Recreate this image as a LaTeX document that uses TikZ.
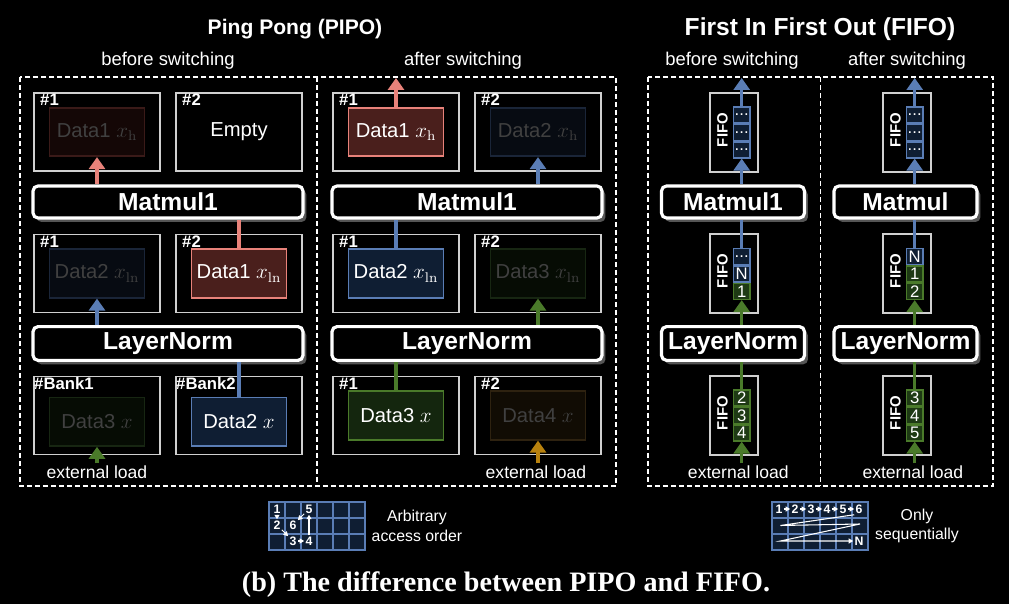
\documentclass[tikz,border=0pt]{standalone}
\usepackage[no-math]{fontspec}
\setmainfont{Liberation Sans}
\newfontfamily\captionfont{Liberation Serif}
\usepackage{tikz}
\usetikzlibrary{arrows.meta, positioning, shadows}
\usepackage{xcolor}
\definecolor{FigRed}{HTML}{E8827A}
\definecolor{FigRedFill}{HTML}{4A1F1C}
\definecolor{FigRedDim}{HTML}{3A1A18}
\definecolor{FigRedDimFill}{HTML}{140706}
\definecolor{FigBlue}{HTML}{5A7DB5}
\definecolor{FigBlueFill}{HTML}{0F1E33}
\definecolor{FigBlueDim}{HTML}{1A2538}
\definecolor{FigBlueDimFill}{HTML}{070B12}
\definecolor{FigGreen}{HTML}{4A7A2A}
\definecolor{FigGreenFill}{HTML}{14260E}
\definecolor{FigGreenDim}{HTML}{172612}
\definecolor{FigGreenDimFill}{HTML}{060C04}
\definecolor{FigCellGreen}{HTML}{1E3A14}
\definecolor{FigOrange}{HTML}{B8820E}
\definecolor{FigOrangeDim}{HTML}{2E2210}
\definecolor{FigOrangeDimFill}{HTML}{110C04}
\definecolor{FigFrame}{HTML}{D0D0D0}
\definecolor{FigShadow}{HTML}{555555}
\definecolor{FigDimText}{HTML}{404040}
\tikzset{
    % Frames and banks
    panelframe/.style={draw=white, line width=1pt, dash pattern=on 0.1cm off 0.06cm},
    bankbox/.style={
        rectangle,
        draw=FigFrame,
        line width=1pt,
        minimum width=2.52cm,
        minimum height=1.56cm
    },
    fifobox/.style={bankbox, minimum width=0.96cm, minimum height=1.58cm},
    % Data blocks
    databox/.style={
        rectangle,
        line width=1pt,
        minimum width=1.9cm,
        minimum height=0.97cm,
        inner sep=0pt,
        text=white,
        font=\fontsize{11.5}{13}\selectfont
    },
    redbox/.style={databox, draw=FigRed, fill=FigRedFill},
    redboxdim/.style={databox, draw=FigRedDim, fill=FigRedDimFill, text=FigDimText},
    bluebox/.style={databox, draw=FigBlue, fill=FigBlueFill},
    blueboxdim/.style={databox, draw=FigBlueDim, fill=FigBlueDimFill, text=FigDimText},
    greenbox/.style={databox, draw=FigGreen, fill=FigGreenFill},
    greenboxdim/.style={databox, draw=FigGreenDim, fill=FigGreenDimFill, text=FigDimText},
    orangeboxdim/.style={databox, draw=FigOrangeDim, fill=FigOrangeDimFill, text=FigDimText},
    % Queue cells
    cellbox/.style={
        rectangle,
        line width=0.8pt,
        minimum width=0.34cm,
        minimum height=0.32cm,
        inner sep=0pt,
        text=white,
        font=\fontsize{9.5}{10}\selectfont
    },
    bluecell/.style={cellbox, draw=FigBlue, fill=FigBlueFill},
    greencell/.style={cellbox, draw=FigGreen, fill=FigCellGreen},
    % Operators
    opbox/.style={
        rectangle,
        rounded corners=0.1cm,
        draw=white,
        fill=black,
        line width=1.8pt,
        minimum width=5.4cm,
        minimum height=0.64cm,
        text=white,
        font=\bfseries\fontsize{14}{16}\selectfont,
        drop shadow={shadow xshift=0.07cm, shadow yshift=-0.08cm, fill=FigShadow, opacity=1}
    },
    fifoop/.style={opbox, minimum width=2.86cm},
    % Texts
    titletext/.style={text=white, font=\bfseries\fontsize{13}{15}\selectfont},
    subtitle/.style={text=white, font=\fontsize{10.5}{12}\selectfont},
    loadtext/.style={text=white, inner sep=1pt, font=\fontsize{10}{12}\selectfont},
    tag/.style={text=white, anchor=north west, inner sep=1pt, font=\bfseries\fontsize{9.5}{11}\selectfont},
    fifotag/.style={text=white, rotate=90, inner sep=0pt, font=\bfseries\fontsize{8.5}{10}\selectfont},
    % Flow styles
    flow/.style={line width=1.8pt},
    flowtip/.style={-{Triangle[width=0.32cm, length=0.24cm]}},
    redflow/.style={flow, FigRed},
    blueflow/.style={flow, FigBlue},
    greenflow/.style={flow, FigGreen},
    orangeflow/.style={flow, FigOrange},
    % Legend styles
    gridline/.style={draw=FigBlue, line width=0.8pt},
    gridnum/.style={text=white, inner sep=0.6pt, font=\bfseries\fontsize{7}{8}\selectfont},
    gridarrow/.style={white, line width=0.6pt, -{Triangle[width=0.1cm, length=0.09cm]}},
    legendtext/.style={text=white, align=center, font=\fontsize{9}{11}\selectfont}
}

\begin{document}
\begin{tikzpicture}[x=0.02cm, y=-0.02cm]
    % Background
    \fill[black] (0,0) rectangle (1009,604);

    % Titles
    \node[titletext, font=\bfseries\fontsize{12}{15}\selectfont] (pipotitle) at (295,29) {Ping Pong (PIPO)};
    \node[titletext, font=\bfseries\fontsize{14}{15}\selectfont] (fifotitle) at (820,29) {First In First Out (FIFO)};
    \node[subtitle] (lsub) at (168,61) {before switching};
    \node[subtitle] (rsub) at (463,61) {after switching};
    \node[subtitle] (fasub) at (732,61) {before switching};
    \node[subtitle] (fbsub) at (907,61) {after switching};

    % Dashed frames
    \draw[panelframe] (20,77) rectangle (616,486);
    \draw[panelframe] (317,77) -- (317,486);
    \draw[panelframe] (648,77) rectangle (993,486);
    \draw[panelframe] (820.5,77) -- (820.5,486);

    % PIPO before switching
    \node[bankbox] (lb11) at (97,132) {};
    \node[bankbox] (lb12) at (239,132) {};
    \node[bankbox] (lb21) at (97,273.5) {};
    \node[bankbox] (lb22) at (239,273.5) {};
    \node[bankbox] (lb31) at (97,415.5) {};
    \node[bankbox] (lb32) at (239,415.5) {};
    \node[tag] at ([xshift=0.1cm]lb11.north west) {\#1};
    \node[tag] at ([xshift=0.1cm]lb12.north west) {\#2};
    \node[tag] at ([xshift=0.1cm]lb21.north west) {\#1};
    \node[tag] at ([xshift=0.1cm]lb22.north west) {\#2};
    \node[tag] at ([xshift=-0.02cm]lb31.north west) {\#Bank1};
    \node[tag] at ([xshift=-0.02cm]lb32.north west) {\#Bank2};
    \node[redboxdim] (ld11) at (lb11) {Data1 $x_{\mathrm{h}}$};
    \node[databox] (ld12) at (lb12) {Empty};
    \node[blueboxdim] (ld21) at (lb21) {Data2 $x_{\mathrm{ln}}$};
    \node[redbox] (ld22) at (lb22) {Data1 $x_{\mathrm{ln}}$};
    \node[greenboxdim] (ld31) at (97,421.7) {Data3 $x$};
    \node[bluebox] (ld32) at (239,421.7) {Data2 $x$};
    \node[opbox] (lmm) at (168,202) {Matmul1};
    \node[opbox] (lln) at (168,343.5) {LayerNorm};
    \node[loadtext] (lload) at (97,472) {external load};
    \draw[redflow, flowtip] (lmm.north -| ld11.south) -- (ld11.south);
    \draw[redflow] (ld22.north) -- (ld22.north |- lmm.south);
    \draw[blueflow, flowtip] (lln.north -| ld21.south) -- (ld21.south);
    \draw[blueflow] (ld32.north) -- (ld32.north |- lln.south);
    \draw[greenflow, flowtip] (lload.north) -- (ld31.south);

    % PIPO after switching
    \node[bankbox] (rb11) at (396,132) {};
    \node[bankbox] (rb12) at (538,132) {};
    \node[bankbox] (rb21) at (396,273.5) {};
    \node[bankbox] (rb22) at (538,273.5) {};
    \node[bankbox] (rb31) at (396,415.5) {};
    \node[bankbox] (rb32) at (538,415.5) {};
    \node[tag] at ([xshift=0.1cm]rb11.north west) {\#1};
    \node[tag] at ([xshift=0.1cm]rb12.north west) {\#2};
    \node[tag] at ([xshift=0.1cm]rb21.north west) {\#1};
    \node[tag] at ([xshift=0.1cm]rb22.north west) {\#2};
    \node[tag] at ([xshift=0.1cm]rb31.north west) {\#1};
    \node[tag] at ([xshift=0.1cm]rb32.north west) {\#2};
    \node[redbox] (rd11) at (rb11) {Data1 $x_{\mathrm{h}}$};
    \node[blueboxdim] (rd12) at (rb12) {Data2 $x_{\mathrm{h}}$};
    \node[bluebox] (rd21) at (rb21) {Data2 $x_{\mathrm{ln}}$};
    \node[greenboxdim] (rd22) at (rb22) {Data3 $x_{\mathrm{ln}}$};
    \node[greenbox] (rd31) at (rb31) {Data3 $x$};
    \node[orangeboxdim] (rd32) at (rb32) {Data4 $x$};
    \node[opbox] (rmm) at (467,202) {Matmul1};
    \node[opbox] (rln) at (467,343.5) {LayerNorm};
    \node[loadtext] (rload) at (536,472) {external load};
    \coordinate (rout) at (396,78);
    \draw[redflow, flowtip] (rd11.north) -- (rout);
    \draw[blueflow, flowtip] (rmm.north -| rd12.south) -- (rd12.south);
    \draw[blueflow] (rd21.north) -- (rd21.north |- rmm.south);
    \draw[greenflow, flowtip] (rln.north -| rd22.south) -- (rd22.south);
    \draw[greenflow] (rd31.north) -- (rd31.north |- rln.south);
    \draw[orangeflow, flowtip] (rload.north -| rd32.south) -- (rd32.south);

    % FIFO before switching
    \node[fifobox] (fa1) at (734,132.5) {};
    \node[fifobox] (fa2) at (734,273.5) {};
    \node[fifobox] (fa3) at (734,415.5) {};
    \node[fifotag] (fa1t) at (722.5,130) {FIFO};
    \node[fifotag] (fa2t) at (722.5,271) {FIFO};
    \node[fifotag] (fa3t) at (722.5,413) {FIFO};
    \node[bluecell] (fa1b) at (741.7,132.5) {...};
    \node[bluecell, above=0pt of fa1b] (fa1a) {...};
    \node[bluecell, below=0pt of fa1b] (fa1c) {...};
    \node[bluecell] (fa2b) at (741.7,274) {N};
    \node[bluecell, above=0pt of fa2b] (fa2a) {...};
    \node[greencell, below=0pt of fa2b] (fa2c) {1};
    \node[greencell] (fa3b) at (741.7,415.5) {3};
    \node[greencell, above=0pt of fa3b] (fa3a) {2};
    \node[greencell, below=0pt of fa3b] (fa3c) {4};
    \node[fifoop] (famm) at (733,202) {Matmul1};
    \node[fifoop] (faln) at (733,343.5) {LayerNorm};
    \node[loadtext] (faload) at (738.3,472) {external load};
    \coordinate (faout) at (741.7,78);
    \draw[blueflow, flowtip] (fa1a.north) -- (faout);
    \draw[blueflow, flowtip] (famm.north -| fa1c.south) -- (fa1c.south);
    \draw[blueflow] (fa2a.north) -- (fa2a.north |- famm.south);
    \draw[greenflow, flowtip] (faln.north -| fa2c.south) -- (fa2c.south);
    \draw[greenflow] (fa3a.north) -- (fa3a.north |- faln.south);
    \draw[greenflow, flowtip] (faload.north -| fa3c.south) -- (fa3c.south);

    % FIFO after switching
    \node[fifobox] (fb1) at (906.7,132.5) {};
    \node[fifobox] (fb2) at (906.7,273.5) {};
    \node[fifobox] (fb3) at (906.7,415.5) {};
    \node[fifotag] (fb1t) at (895.5,130) {FIFO};
    \node[fifotag] (fb2t) at (895.5,271) {FIFO};
    \node[fifotag] (fb3t) at (895.5,413) {FIFO};
    \node[bluecell] (fb1b) at (914.7,132.5) {...};
    \node[bluecell, above=0pt of fb1b] (fb1a) {...};
    \node[bluecell, below=0pt of fb1b] (fb1c) {...};
    \node[greencell] (fb2b) at (914.7,274) {1};
    \node[bluecell, above=0pt of fb2b] (fb2a) {N};
    \node[greencell, below=0pt of fb2b] (fb2c) {2};
    \node[greencell] (fb3b) at (914.7,415.5) {4};
    \node[greencell, above=0pt of fb3b] (fb3a) {3};
    \node[greencell, below=0pt of fb3b] (fb3c) {5};
    \node[fifoop] (fbmm) at (905.5,202) {Matmul};
    \node[fifoop] (fbln) at (905.5,343.5) {LayerNorm};
    \node[loadtext] (fbload) at (912.8,472) {external load};
    \coordinate (fbout) at (914.7,78);
    \draw[blueflow, flowtip] (fb1a.north) -- (fbout);
    \draw[blueflow, flowtip] (fbmm.north -| fb1c.south) -- (fb1c.south);
    \draw[blueflow] (fb2a.north) -- (fb2a.north |- fbmm.south);
    \draw[greenflow, flowtip] (fbln.north -| fb2c.south) -- (fb2c.south);
    \draw[greenflow] (fb3a.north) -- (fb3a.north |- fbln.south);
    \draw[greenflow, flowtip] (fbload.north -| fb3c.south) -- (fb3c.south);

    % Legend: arbitrary access
    \fill[FigBlueFill] (269,502) rectangle (365,550);
    \foreach \i in {1,...,5} \draw[gridline] (269+16*\i,502) -- (269+16*\i,550);
    \foreach \j in {1,2} \draw[gridline] (269,502+16*\j) -- (365,502+16*\j);
    \draw[gridline] (269,502) rectangle (365,550);
    \node[gridnum] (g1) at (277,509) {1};
    \node[gridnum] (g2) at (277,525) {2};
    \node[gridnum] (g3) at (293,541) {3};
    \node[gridnum] (g4) at (309,541) {4};
    \node[gridnum] (g5) at (309,509) {5};
    \node[gridnum] (g6) at (293,525) {6};
    \draw[gridarrow] (g1) -- (g2);
    \draw[gridarrow] (g2) -- (g3);
    \draw[gridarrow] (g3) -- (g4);
    \draw[gridarrow] (g4) -- (g5);
    \draw[gridarrow] (g5) -- (g6);
    \node[legendtext] (arbtext) at (417,526) {Arbitrary\\access order};

    % Legend: sequential access
    \fill[FigBlueFill] (772,502) rectangle (868,550);
    \foreach \i in {1,...,5} \draw[gridline] (772+16*\i,502) -- (772+16*\i,550);
    \foreach \j in {1,2} \draw[gridline] (772,502+16*\j) -- (868,502+16*\j);
    \draw[gridline] (772,502) rectangle (868,550);
    \node[gridnum] (s1) at (779,509) {1};
    \node[gridnum] (s2) at (795,509) {2};
    \node[gridnum] (s3) at (811,509) {3};
    \node[gridnum] (s4) at (827,509) {4};
    \node[gridnum] (s5) at (843,509) {5};
    \node[gridnum] (s6) at (859,509) {6};
    \node[gridnum] (sN) at (859,541) {N};
    \draw[gridarrow] (s1) -- (s2);
    \draw[gridarrow] (s2) -- (s3);
    \draw[gridarrow] (s3) -- (s4);
    \draw[gridarrow] (s4) -- (s5);
    \draw[gridarrow] (s5) -- (s6);
    \coordinate (z1) at (780.5,525.5);
    \coordinate (z2) at (860,524);
    \coordinate (z3) at (780.5,541);
    \draw[gridarrow] (s6.south west) -- (z1) -- (z2) -- (z3) -- (sN);
    \node[legendtext] (seqtext) at (917,526) {Only\\sequentially};

    % Caption
    \node[text=white, font=\captionfont\bfseries\fontsize{16}{18}\selectfont] (caption) at (506,585) {(b) The difference between PIPO and FIFO.};
\end{tikzpicture}
\end{document}
